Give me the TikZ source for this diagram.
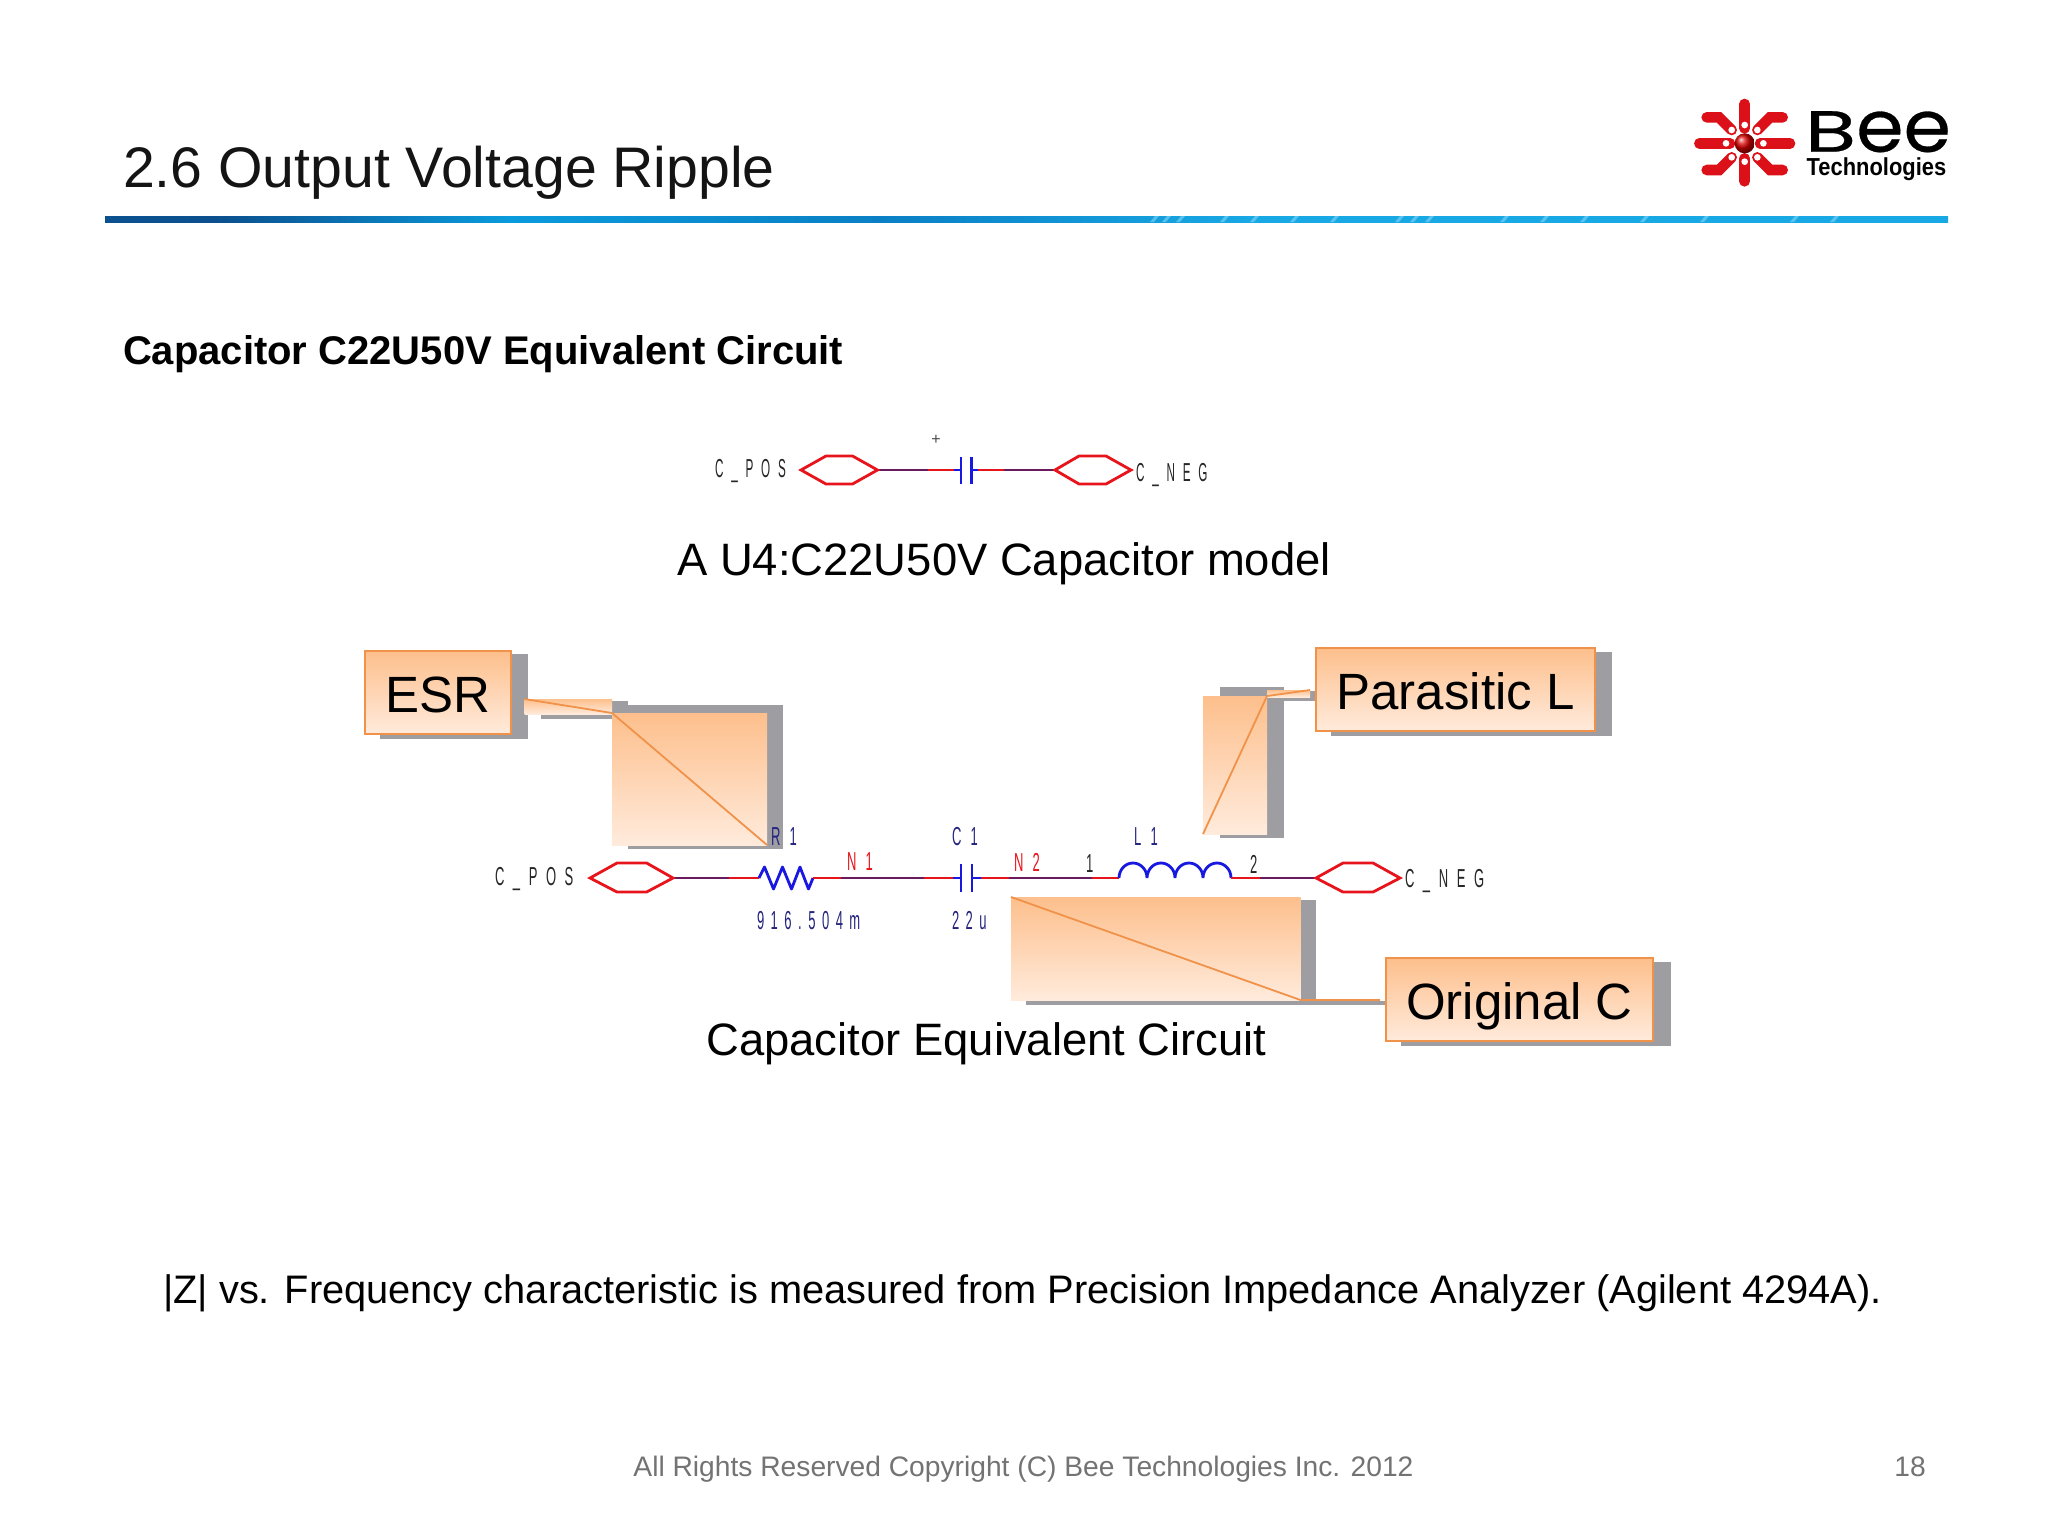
\documentclass[tikz,border=0pt]{standalone}
\usepackage{fontspec}
\setmainfont{Liberation Sans}
\newfontfamily\cirfont[FakeStretch=0.5,LetterSpace=33]{Liberation Sans}
\newfontfamily\tagfont[FakeStretch=0.5,LetterSpace=36]{Liberation Sans}
\newfontfamily\valfont[FakeStretch=0.5,LetterSpace=25]{Liberation Sans}
\newfontfamily\topfont[FakeStretch=0.45,LetterSpace=30]{Liberation Sans}
\newfontfamily\beefont[FakeBold=0.4]{Poppins}
\usetikzlibrary{calc}
\definecolor{wirered}{HTML}{E8141C}
\definecolor{wirepur}{HTML}{6A1B5E}
\definecolor{wireblue}{HTML}{1818E0}
\definecolor{labnavy}{HTML}{24247F}
\definecolor{shadowg}{HTML}{9E9EA2}
\definecolor{calline}{HTML}{F0924A}
\definecolor{caltop}{HTML}{FDBF8C}
\definecolor{calbot}{HTML}{FFEBDC}
\definecolor{logored}{HTML}{DC1018}
\definecolor{ruleA}{HTML}{143A42}
\definecolor{ruleB}{HTML}{0A5C9C}
\definecolor{ruleC}{HTML}{0B4F8E}
\definecolor{ruleD}{HTML}{0A9BDC}
\definecolor{ruleE}{HTML}{0A7FC4}
\definecolor{ruleF}{HTML}{18A8E4}
\definecolor{ruleG}{HTML}{1E8FC4}
\definecolor{ruleH}{HTML}{2A2F6B}
\pgfdeclarehorizontalshading{rulefade}{100bp}{
 color(0bp)=(ruleA); color(7bp)=(ruleA); color(10bp)=(ruleB); color(28bp)=(ruleC); color(36bp)=(ruleD);
 color(46bp)=(ruleE); color(56bp)=(ruleF); color(80bp)=(ruleF); color(92bp)=(ruleG); color(96bp)=(ruleH); color(100bp)=(ruleH)}
\tikzset{
 x=0.5pt,y=-0.5pt,
 every node/.style={inner sep=0pt,outer sep=0pt},
 titletext/.style={font=\fontsize{28.6}{34}\selectfont,text=black!92},
 headtext/.style={font=\bfseries\fontsize{20}{24}\selectfont,text=black},
 capttext/.style={font=\fontsize{22.7}{26}\selectfont,text=black},
 bodytext/.style={font=\fontsize{19.9}{24}\selectfont,text=black},
 foottext/.style={font=\fontsize{14.1}{18}\selectfont,text=black!55},
 portlabel/.style={font=\cirfont\fontsize{13}{15}\selectfont,text=black!85},
 toplabel/.style={font=\topfont\fontsize{13}{15}\selectfont,text=black!85},
 pinlabel/.style={font=\tagfont\fontsize{13}{15}\selectfont,text=black!85},
 navylabel/.style={font=\tagfont\fontsize{13}{15}\selectfont,text=labnavy},
 vallabel/.style={font=\valfont\fontsize{13}{15}\selectfont,text=labnavy},
 redlabel/.style={font=\tagfont\fontsize{13}{15}\selectfont,text=wirered},
 wr/.style={draw=wirered,line width=1.4pt},
 wp/.style={draw=wirepur,line width=1.4pt},
 wb/.style={draw=wireblue,line width=1.4pt},
 porthex/.style={draw=wirered,line width=1.4pt,fill=white},
 callbox/.style={draw=calline,line width=0.8pt,top color=caltop,bottom color=calbot,font=\fontsize{25.5}{30}\selectfont,text=black,text height=20pt,text depth=0pt},
 callfill/.style={top color=caltop,bottom color=calbot},
 shadowbox/.style={fill=shadowg},
 leader/.style={draw=calline,line width=0.9pt},
}
\begin{document}
\begin{tikzpicture}
\useasboundingbox (0,0) rectangle (2048,1536);
\fill[white] (0,0) rectangle (2048,1536);
% title
\node[titletext,anchor=base west] (title) at (123,187) {2.6 Output Voltage Ripple};
\shade[shading=rulefade] (105,216) rectangle (1948,222);
\foreach \sx in {1150,1162,1176,1220,1250,1290,1330,1395,1410,1425,1500,1540,1580,1640,1700,1790,1830}
  \fill[white!55!cyan,opacity=.55] (\sx,222) -- (\sx+5,216) -- (\sx+9,216) -- (\sx+4,222) -- cycle;
% logo
\begin{scope}[shift={(825pt,-40pt)},x=0.16667pt,y=-0.16667pt]
 \begin{scope}[line width=5.3pt,logored]
  \draw[line cap=round] (148,190) -- (240,190);
  \draw[line cap=round] (330,190) -- (420,190);
  \draw[line cap=round] (284,72) -- (284,145);
  \draw[line cap=round] (284,235) -- (284,304);
  \draw[line cap=round,line join=miter] (245,150) -- (207,112) -- (170,112);
  \draw[line cap=round,line join=miter] (322,150) -- (360,112) -- (398,112);
  \draw[line cap=round,line join=miter] (245,232) -- (207,270) -- (170,270);
  \draw[line cap=round,line join=miter] (322,232) -- (360,270) -- (398,270);
 \end{scope}
 \fill[white] (228,190) circle (10) (340,190) circle (10) (284,135) circle (10) (284,245) circle (10)
   (245,150) circle (10) (322,150) circle (10) (245,232) circle (10) (322,232) circle (10);
 \shade[ball color=red!85!black] (284,190) circle (30);
 \node[anchor=base west,text=black] (bee) at (464,215) {\beefont\scalebox{1.45}[1]{\fontsize{29}{30}\selectfont B}\scalebox{1.06}[1]{\fontsize{36}{30}\selectfont ee}};
 \node[anchor=base west,font=\bfseries\fontsize{12.3}{14}\selectfont,text=black] (tech) at (470,285) {\scalebox{.89}[1]{Technologies}};
\end{scope}
% heading
\node[headtext,anchor=base west] (head) at (123,364) {Capacitor C22U50V Equivalent Circuit};
% top circuit
\coordinate (a1) at (877.5,470); \coordinate (a2) at (927.5,470); \coordinate (a3) at (954,470);
\coordinate (a4) at (961,470); \coordinate (a5) at (971.5,470); \coordinate (a6) at (978,470);
\coordinate (a7) at (1004,470); \coordinate (a8) at (1055,470);
\draw[wp] (a1) -- (a2); \draw[wr] (a2) -- (a3); \draw[wb] (a3) -- (a4); \draw[wb] (a5) -- (a6);
\draw[wr] (a6) -- (a7); \draw[wp] (a7) -- (a8);
\draw[wb] (961,457) -- (961,484); \draw[wb] (971.5,457) -- (971.5,484);
\draw[porthex] (801,470) -- (826,456) -- (852.5,456) -- (877.5,470) -- (852.5,484) -- (826,484) -- cycle;
\draw[porthex] (1055,470) -- (1079,456) -- (1106,456) -- (1131,470) -- (1106,484) -- (1079,484) -- cycle;
\node[toplabel,anchor=base west] (tpos) at (715,477) {C\_POS};
\node[toplabel,anchor=base west] (tneg) at (1136,481) {C\_NEG};
\node[font=\fontsize{8}{10}\selectfont,text=black!70] (tplus) at (936,440) {+};
\node[capttext,anchor=base] (tcap) at (1004,575) {A U4:C22U50V Capacitor model};
% shadows
\fill[shadowbox] (380,654) rectangle (528,739);
\fill[shadowbox] (540.6,709) rectangle (628,719);
\fill[shadowbox] (612,701) rectangle (628,713);
\fill[shadowbox] (628,705) rectangle (783,849);
\fill[shadowbox] (1219.5,687) rectangle (1284,838);
\fill[shadowbox] (1267,691) rectangle (1331,701);
\fill[shadowbox] (1331,652) rectangle (1612,736);
\fill[shadowbox] (1026,900) rectangle (1316,1005);
\fill[shadowbox] (1300,1001) rectangle (1401,1005);
\fill[shadowbox] (1401,962) rectangle (1671,1046);
% callout bodies
\shade[callfill] (524.5,699) rectangle (612,714);
\shade[callfill] (612,713) rectangle (767,845);
\shade[callfill] (1203,696) rectangle (1267,834);
\shade[callfill] (1267,690) rectangle (1310,697);
\shade[callfill] (1011,897) rectangle (1300.5,1000);
% boxes
\node[callbox,minimum width=73pt,minimum height=41.5pt] (esr) at (438,692.5) {ESR};
\node[callbox,minimum width=139.5pt,minimum height=41.5pt] (parl) at (1455.5,689.5) {Parasitic L};
\node[callbox,minimum width=133.5pt,minimum height=41.5pt] (origc) at (1519.5,999.5) {Original C};
% leaders
\coordinate (e1) at (524.5,699); \coordinate (e2) at (612,713); \coordinate (e3) at (767,845);
\draw[leader] (e1) -- (e2) -- (e3);
\coordinate (p1) at (1310,690); \coordinate (p2) at (1267,696); \coordinate (p3) at (1203,834);
\draw[leader] (p1) -- (p2) -- (p3);
\coordinate (o1) at (1011,897); \coordinate (o2) at (1300.5,1000); \coordinate (o3) at (1380,1000);
\draw[leader] (o1) -- (o2) -- (o3);
% main circuit
\coordinate (b1) at (673,878); \coordinate (b2) at (729,878); \coordinate (b3) at (759,878);
\coordinate (b4) at (813,878); \coordinate (b5) at (841,878); \coordinate (b6) at (924,878);
\coordinate (b7) at (953,878); \coordinate (b8) at (961,878); \coordinate (b9) at (972,878);
\coordinate (b10) at (981,878); \coordinate (b11) at (1009,878); \coordinate (b12) at (1092,878);
\coordinate (b13) at (1119,878); \coordinate (b14) at (1231,878); \coordinate (b15) at (1260,878);
\coordinate (b16) at (1316,878);
\draw[wp] (b1) -- (b2); \draw[wr] (b2) -- (b3);
\draw[wb,line join=round] (b3) -- (764.5,867) -- (773.5,889) -- (782.5,867) -- (791.5,889) -- (800,867) -- (808.5,889) -- (b4);
\draw[wr] (b4) -- (b5); \draw[wp] (b5) -- (b6); \draw[wr] (b6) -- (b7);
\draw[wb] (b7) -- (b8); \draw[wb] (b9) -- (b10);
\draw[wb] (961,864) -- (961,892); \draw[wb] (972,864) -- (972,892);
\draw[wr] (b10) -- (b11); \draw[wp] (b11) -- (b12); \draw[wr] (b12) -- (b13);
\draw[wb] (b13) arc[start angle=180,end angle=360,x radius=14,y radius=15]
  arc[start angle=180,end angle=360,x radius=14,y radius=15]
  arc[start angle=180,end angle=360,x radius=14,y radius=15]
  arc[start angle=180,end angle=360,x radius=14,y radius=15];
\draw[wr] (b14) -- (b15); \draw[wp] (b15) -- (b16);
\draw[porthex] (590,878) -- (617,863) -- (646.6,863) -- (673,878) -- (646.6,892) -- (617,892) -- cycle;
\draw[porthex] (1316,878) -- (1343,863) -- (1373,863) -- (1400,878) -- (1373,892) -- (1343,892) -- cycle;
% labels
\node[portlabel,anchor=base west] (mpos) at (495,885) {C\_POS};
\node[portlabel,anchor=base west] (mneg) at (1405,887) {C\_NEG};
\node[navylabel,anchor=base west] (r1) at (771,845) {R1};
\node[vallabel,anchor=base west] (rval) at (757,929) {916.504m};
\node[redlabel,anchor=base west] (n1) at (847,870) {N1};
\node[navylabel,anchor=base west] (c1) at (952,845) {C1};
\node[vallabel,anchor=base west] (cval) at (952,929) {22u};
\node[redlabel,anchor=base west] (n2) at (1014,871) {N2};
\node[pinlabel,anchor=base west] (p1lab) at (1086,872) {1};
\node[navylabel,anchor=base west] (l1) at (1134,845) {L1};
\node[pinlabel,anchor=base west] (p2lab) at (1250,873) {2};
\node[capttext,anchor=base] (bcap) at (986.5,1055) {Capacitor Equivalent Circuit};
\node[bodytext,anchor=base] (body) at (1022.5,1303) {|Z| vs. Frequency characteristic is measured from Precision Impedance Analyzer (Agilent 4294A).};
\node[foottext,anchor=base] (foot) at (1023.5,1476) {All Rights Reserved Copyright (C) Bee Technologies Inc. 2012};
\node[foottext,anchor=base] (page) at (1910,1476) {18};
\end{tikzpicture}
\end{document}
